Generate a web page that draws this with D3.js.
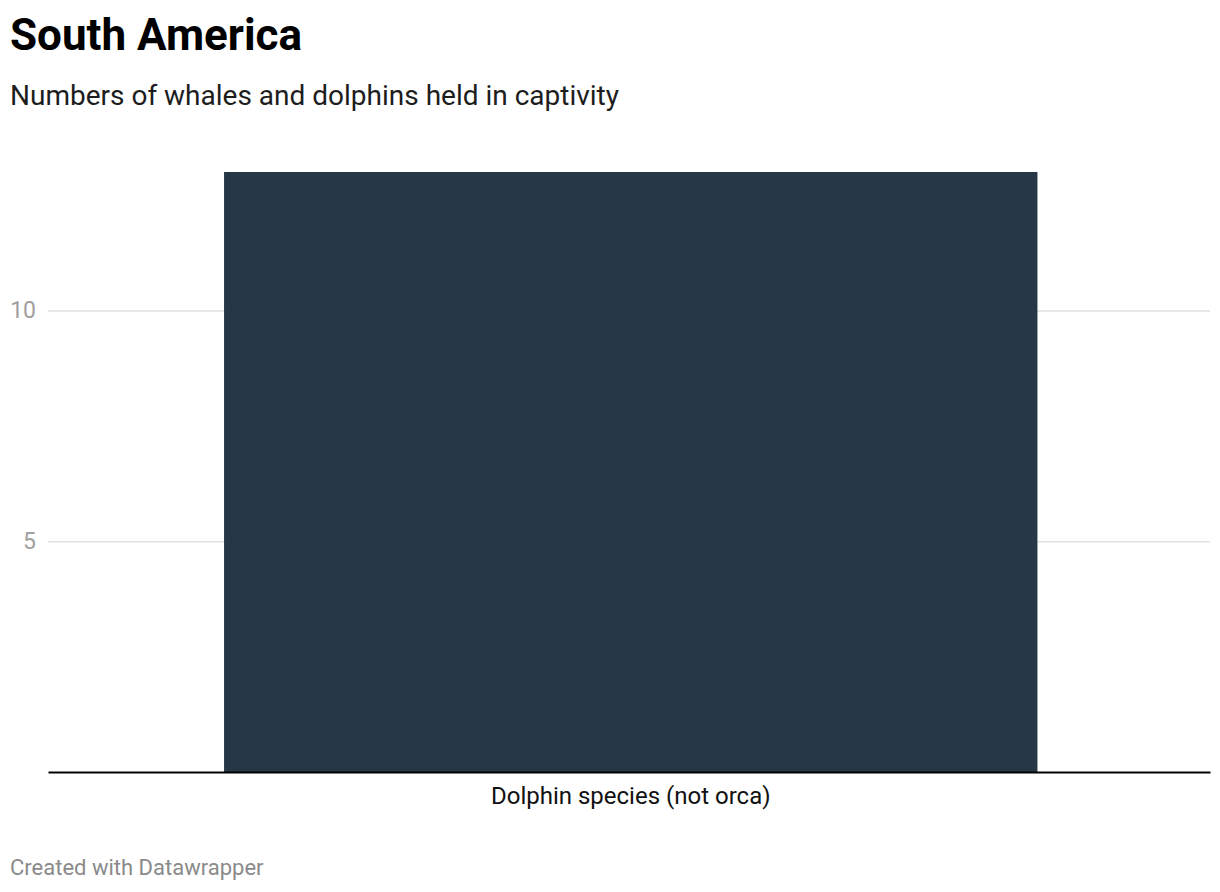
<!DOCTYPE html>
<html>
<head>
<meta charset="utf-8">
<script src="https://cdn.jsdelivr.net/npm/d3@7"></script>
<style>
  body { margin: 0; background: #fff; font-family: Roboto, sans-serif; }
</style>
</head>
<body>
<svg id="canvas"></svg>
<script>
// data
const categories = ['Dolphin species (not orca)'];
const counts = [13];
const yTicks = [5, 10];

const w = 1220;
const h = 892;
const margin = { top: 172, right: 10, bottom: 120, left: 48 };

const svg = d3.select('#canvas').attr('width', w).attr('height', h);

// title + subtitle
svg.append('text')
  .attr('x', 10).attr('y', 50)
  .style('font-size', '44px').style('font-weight', 700).style('fill', '#000')
  .text('South America');
svg.append('text')
  .attr('x', 10).attr('y', 105)
  .style('font-size', '28px').style('fill', '#1d1d1d')
  .text('Numbers of whales and dolphins held in captivity');

// scales
const xScale = d3.scaleBand().domain(categories)
  .range([margin.left, w - margin.right])
  .paddingInner(0.3).paddingOuter(0.15).align(0.505);
const yScale = d3.scaleLinear().domain([0, 13]).range([772, 172]);

// gridlines
const yAxis = d3.axisLeft(yScale).tickValues(yTicks).tickSize(-(w - margin.right - margin.left)).tickPadding(12);
const gy = svg.append('g').attr('transform', 'translate(' + margin.left + ',0)').call(yAxis);
gy.select('.domain').remove();
gy.selectAll('line').attr('stroke', '#e1e1e1').attr('stroke-width', 1.5);
gy.selectAll('text').style('font-size', '23px').style('fill', '#a0a0a0').style('font-family', 'Roboto');

// bars
svg.selectAll('rect.bar')
  .data(counts)
  .enter()
  .append('rect')
  .attr('class', 'bar')
  .attr('x', (d, i) => xScale(categories[i]))
  .attr('width', xScale.bandwidth())
  .attr('y', (d) => yScale(d))
  .attr('height', (d) => yScale(0) - yScale(d))
  .attr('fill', '#263847');

// baseline + category labels
const xAxis = d3.axisBottom(xScale).tickSize(0).tickPadding(15);
const gx = svg.append('g').attr('transform', 'translate(0,' + yScale(0) + ')').call(xAxis);
gx.select('.domain').attr('stroke', '#000').attr('stroke-width', 2);
gx.selectAll('text').style('font-size', '24px').style('fill', '#111').style('font-family', 'Roboto');

// footer
svg.append('text')
  .attr('x', 10).attr('y', 875)
  .style('font-size', '22px').style('fill', '#8a8a8a')
  .text('Created with Datawrapper');
</script>
</body>
</html>
